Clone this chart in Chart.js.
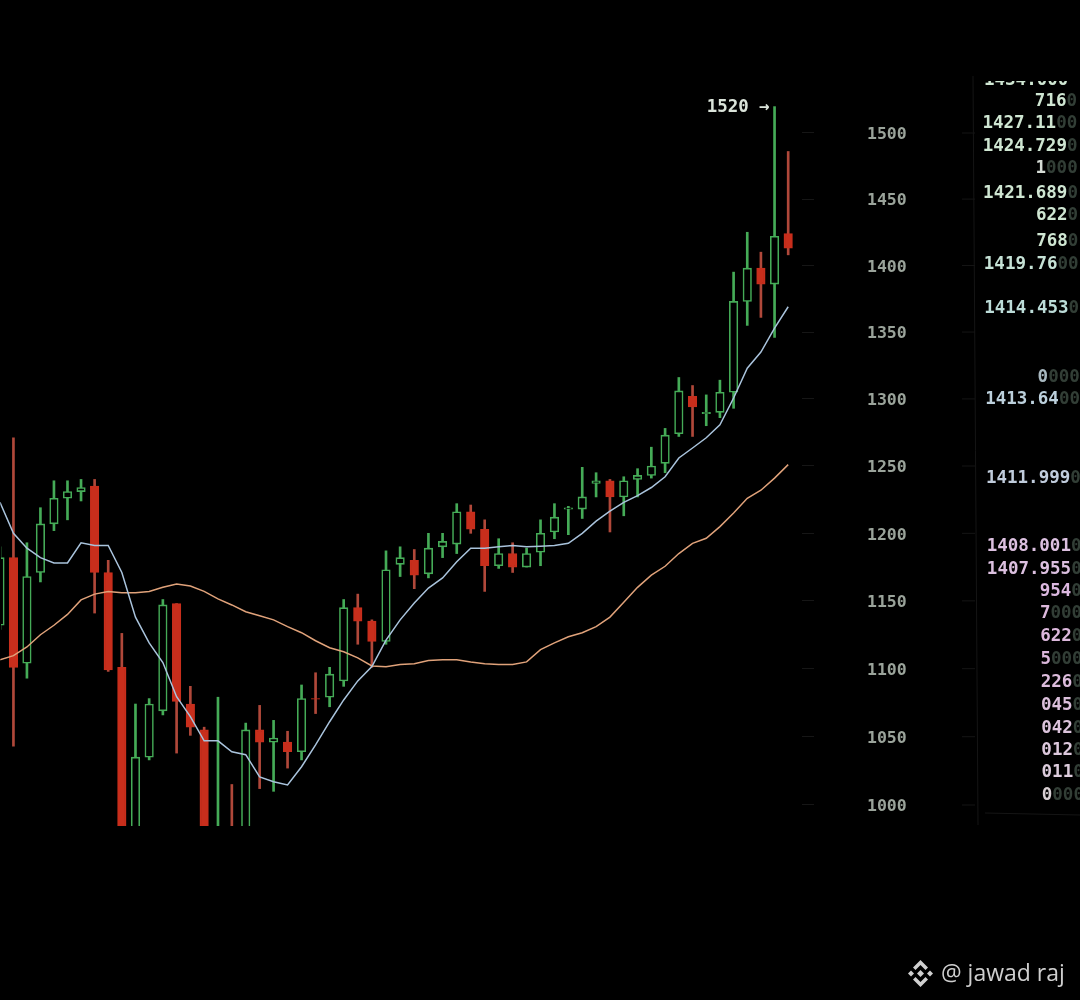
<!DOCTYPE html>
<html>
<head>
<meta charset="utf-8">
<title>Price chart</title>
<script src="https://cdn.jsdelivr.net/npm/chart.js@4/dist/chart.umd.min.js"></script>
<style>
  html, body { margin: 0; padding: 0; background: #000; }
  #wrap { position: relative; width: 1080px; height: 1000px; }
</style>
</head>
<body>
<div id="wrap"><canvas id="myChart"></canvas></div>
<script>
// candle values, left to right
const opens = [1132,1182,1104,1171,1207,1226,1231,1235,1171,1101,975,1035,1069,1148,1074,1055,975,982,975,1055,1046,1046,1039,1078,1079,1091,1145,1135,1120,1177,1180,1170,1190,1192,1216,1203,1176,1185,1175,1186,1201,1218,1218,1237,1239,1227,1240,1243,1252,1274,1302,1289,1290,1305,1373,1398,1386,1424];
const highs = [1190,1271,1193,1219,1239,1239,1240,1240,1180,1126,1074,1078,1151,1148,1087,1057,1079,1015,1060,1073,1062,1054,1088,1097,1101,1151,1155,1136,1187,1190,1188,1200,1200,1222,1221,1210,1196,1193,1189,1210,1222,1220,1249,1245,1240,1242,1248,1264,1278,1316,1310,1303,1314,1395,1425,1410,1520,1486];
const lows = [1129,1043,1093,1164,1202,1210,1224,1141,1098,950,965,1033,1066,1038,1051,960,970,970,970,1012,1010,1027,1033,1067,1072,1087,1118,1101,1118,1168,1159,1167,1182,1185,1200,1157,1174,1171,1175,1176,1196,1199,1211,1227,1201,1213,1227,1241,1245,1272,1272,1280,1286,1293,1355,1361,1346,1408];
const closes = [1182,1101,1168,1207,1226,1231,1234,1171,1099,965,1035,1074,1147,1076,1057,970,982,975,1055,1046,1049,1039,1078,1077.5,1096,1145,1135,1120,1173,1182,1169,1189,1194,1216,1203,1176,1185,1175,1185,1200,1212,1219,1227,1239,1227,1239,1243,1250,1273,1306,1294,1290,1305,1373,1398,1386,1422,1413];

// the two moving averages
const fastAverage = [1223,1200,1189,1182,1178,1178,1193,1191,1191,1171,1138,1119,1104.5,1079.4,1064.7,1047,1047,1039,1036.8,1020.6,1017,1014.7,1028,1044,1061,1077,1091,1101.5,1121,1136,1148.5,1159.5,1167,1179,1189,1189,1190,1191,1190,1190.5,1191,1192.6,1200,1209,1216.4,1223,1228,1234,1242,1256,1263.4,1271,1280.6,1300.7,1323,1335,1353,1369];
const slowAverage = [1106.6,1109.6,1116,1125,1132,1140,1150.7,1155,1157,1156,1156,1157,1160,1162.5,1161,1157,1151.5,1147,1142,1139,1136,1131,1126.5,1120.6,1115.4,1112.5,1108,1102,1101.5,1103,1103.7,1106,1106.6,1106.6,1105,1103.7,1103,1103,1105,1114,1119,1123.5,1126.5,1131,1138,1149,1160,1169,1175.6,1185,1192.6,1196.3,1205,1215,1226,1232,1241,1251];

const priceTicks = [1000,1050,1100,1150,1200,1250,1300,1350,1400,1450,1500];
const peakLabel = "1520 \u2192";
const peakIndex = 56;

// order book column on the right: bright part, faded tail
const bookBright = ["716","1427.11","1424.729","1","1421.689","622","768","1419.76","1414.453","0","1413.64","1411.999","1408.001","1407.955","954","7","622","5","226","045","042","012","011","0"];
const bookFaded = ["0","00","0","000","0","0","0","00","0","000","00","0","0","0","0","000","0","000","0","0","0","0","0","000"];
const bookRowY = [100,122,145,167,192,214,240,263,307,376,398,477,545,568,590,612,635,658,681,704,727,749,771,794];
const bookColors = ["#cfe6d2","#cfe6d2","#cfe6d2","#d6dcd6","#cfe6d2","#cfe6d2","#cfe6d2","#c6e2d6","#bcdcd8","#a8b8c0","#bcd0dc","#c0ccdc","#dcc0e0","#dcc0e0","#dcb8e0","#dcb8dc","#dcb8dc","#dcb8dc","#dcbcdc","#dcc0dc","#dcc4dc","#dcc8dc","#dcccdc","#d8d0d4"];

const categories = opens.map((_, i) => i).concat([""]);
const UP = "#45ab57", DOWN = "#c82e1c", DOWN_WICK = "#b0483a";

// the photographed screen bows the price axis a little, so the spacing is not quite even
class BowedScale extends Chart.LinearScale {
  getPixelForValue(value) {
    const t = (value - 1000) / 500;
    return super.getPixelForValue(value) - 12 * t * (1 - t);
  }
}
BowedScale.id = "bowed";

// same thing sideways: candles sit a few pixels left of even spacing in the first half
class BowedCategories extends Chart.CategoryScale {
  getPixelForValue(value, index) {
    const i = index === undefined ? value : index;
    const bend = i < 33 ? -4 * Math.sin(Math.PI * (i + 3) / 36) : 1.3 * Math.sin(Math.PI * (i - 33) / 24);
    return super.getPixelForValue(value, index) + bend;
  }
}
BowedCategories.id = "bowedCategories";
Chart.register(BowedScale, BowedCategories);

const bookPlugin = {
  id: "book",
  afterDraw(chart) {
    const ctx = chart.ctx, y = chart.scales.y, x = chart.scales.x;
    ctx.save();

    // arrow label at the top of the tallest wick
    ctx.font = "bold 17.4px 'DejaVu Sans Mono'";
    ctx.fillStyle = "#dbe4da";
    ctx.textAlign = "right";
    ctx.textBaseline = "middle";
    ctx.fillText(peakLabel, x.getPixelForValue(peakIndex, peakIndex) - 5, y.getPixelForValue(highs[peakIndex]) + 1);

    // faint rule left of the book plus its little ticks
    ctx.strokeStyle = "#151515";
    ctx.lineWidth = 1;
    ctx.beginPath();
    ctx.moveTo(973, 76);
    ctx.lineTo(978, 825);
    ctx.moveTo(985, 813);
    ctx.lineTo(1080, 815);
    priceTicks.forEach(v => {
      ctx.moveTo(962, y.getPixelForValue(v));
      ctx.lineTo(975, y.getPixelForValue(v));
    });
    ctx.stroke();

    // clipped row at the very top of the book
    ctx.font = "bold 17.5px 'DejaVu Sans Mono'";
    ctx.textAlign = "left";
    ctx.save();
    ctx.beginPath();
    ctx.rect(970, 81, 110, 8);
    ctx.clip();
    ctx.fillStyle = "#cfe6d2";
    ctx.fillText("1434.000", 984, 80);
    ctx.restore();

    // rows are right aligned on the decimals, drifting slightly with the photo angle
    bookBright.forEach((text, i) => {
      const end = 1077 + (bookRowY[i] - 100) * 0.01;
      const tail = bookFaded[i];
      const tailWidth = ctx.measureText(tail).width;
      const rowY = bookRowY[i] + 1.5;
      ctx.textAlign = "right";
      ctx.fillStyle = "#323e36";
      ctx.fillText(tail, end, rowY);
      ctx.fillStyle = bookColors[i];
      ctx.fillText(text, end - tailWidth, rowY);
    });

    // watermark
    ctx.font = "23px 'Open Sans'";
    ctx.fillStyle = "#cfcfcf";
    ctx.textAlign = "left";
    ctx.fillText("@ jawad raj", 941, 974);
    drawLogo(ctx, 920.5, 973.5);

    ctx.restore();
  }
};

// small diamond mark beside the watermark
function drawLogo(ctx, cx, cy) {
  ctx.fillStyle = "#d0d0d0";
  function shape(points) {
    ctx.beginPath();
    points.forEach((p, i) => i ? ctx.lineTo(cx + p[0], cy + p[1]) : ctx.moveTo(cx + p[0], cy + p[1]));
    ctx.closePath();
    ctx.fill();
  }
  shape([[0,-3.5],[3.5,0],[0,3.5],[-3.5,0]]);
  shape([[-9.5,-3],[-6.5,0],[-9.5,3],[-12.5,0]]);
  shape([[9.5,-3],[12.5,0],[9.5,3],[6.5,0]]);
  shape([[0,-13.5],[7.5,-6],[5,-3.5],[0,-8.5],[-5,-3.5],[-7.5,-6]]);
  shape([[0,13.5],[7.5,6],[5,3.5],[0,8.5],[-5,3.5],[-7.5,6]]);
}

const ctx = document.getElementById("myChart").getContext("2d");

new Chart(ctx, {
  type: "bar",
  data: {
    labels: categories,
    datasets: [
      {
        label: "Fast average",
        type: "line",
        data: fastAverage,
        borderColor: "#a9c3dc",
        borderWidth: 1.5,
        pointRadius: 0,
        order: 0
      },
      {
        label: "Slow average",
        type: "line",
        data: slowAverage,
        borderColor: "#e0a27a",
        borderWidth: 1.5,
        pointRadius: 0,
        order: 0
      },
      {
        label: "Body",
        data: opens.map((o, i) => [o, closes[i]]),
        backgroundColor: opens.map((o, i) => closes[i] >= o ? "#000" : DOWN),
        borderColor: opens.map((o, i) => closes[i] >= o ? UP : DOWN),
        borderWidth: 1.6,
        borderSkipped: false,
        barThickness: 8.5,
        grouped: false,
        order: 1
      },
      {
        label: "Wick",
        data: lows.map((l, i) => [l, highs[i]]),
        backgroundColor: opens.map((o, i) => closes[i] >= o ? UP : DOWN_WICK),
        barThickness: 2,
        grouped: false,
        order: 2
      }
    ]
  },
  options: {
    responsive: true,
    maintainAspectRatio: false,
    animation: false,
    layout: { padding: { left: 1, top: 80, bottom: 174, right: 0 } },
    plugins: { legend: { display: false }, tooltip: { enabled: false } },
    scales: {
      x: { type: "bowedCategories", display: false, offset: false },
      y: {
        type: "bowed",
        position: "right",
        min: 984.375,
        max: 1539.43,
        afterBuildTicks: scale => { scale.ticks = priceTicks.map(v => ({ value: v })); },
        afterFit: scale => { scale.width = 278; },
        border: { display: false },
        grid: { drawOnChartArea: false, color: "#161616", tickLength: 12 },
        ticks: {
          autoSkip: false,
          padding: 53,
          labelOffset: 2,
          color: "#9aa39a",
          font: { family: "'DejaVu Sans Mono'", size: 16.5, weight: "bold" },
          callback: v => String(v)
        }
      }
    }
  },
  plugins: [bookPlugin]
});
</script>
</body>
</html>
